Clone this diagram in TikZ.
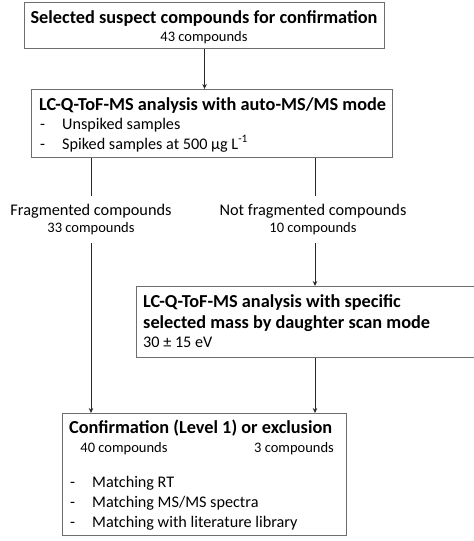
\documentclass[tikz,border=0pt]{standalone}
\usepackage{fontspec}
\setmainfont{Carlito}
\usetikzlibrary{arrows.meta, positioning}
\definecolor{boxgray}{RGB}{110,110,110}
\definecolor{linegray}{RGB}{40,40,40}

\begin{document}
\begin{tikzpicture}[
    x=1pt, y=-1pt,
    >={Stealth[length=5pt, width=4.5pt]},
    stepbox/.style={rectangle, draw=boxgray, line width=1.1pt, anchor=north west, inner sep=0pt},
    heading/.style={anchor=base west, inner sep=0pt, font=\fontsize{18.3}{20}\selectfont\bfseries},
    bodytext/.style={anchor=base west, inner sep=0pt, font=\fontsize{16.2}{18}\selectfont},
    countlabel/.style={anchor=base, inner sep=0pt, font=\fontsize{14.5}{16}\selectfont},
    branchlabel/.style={align=center, inner sep=0pt, minimum height=47pt, font=\fontsize{16.3}{17}\selectfont},
    arrow/.style={->, line width=0.8pt, linegray},
    link/.style={line width=0.8pt, linegray},
]
\useasboundingbox (0,0) rectangle (474,541);

% === BOXES ===
\node[stepbox, minimum width=360, minimum height=46] (select) at (24,2) {};
\node[stepbox, minimum width=361, minimum height=68] (automs) at (31,89) {};
\node[stepbox, minimum width=340, minimum height=71] (daughter) at (136,286) {};
\node[stepbox, minimum width=284, minimum height=122] (confirm) at (62,413) {};

% Selected suspects
\node[heading, anchor=base] (selecttitle) at (204,23) {Selected suspect compounds for confirmation};
\node[countlabel] (selectcount) at (204,41) {43 compounds};

% Auto-MS/MS
\node[heading] (automstitle) at (39,110) {LC-Q-ToF-MS analysis with auto-MS/MS mode};
\node[bodytext] (dashA) at (40,129.5) {-};
\node[bodytext] (unspiked) at (62,129.5) {Unspiked samples};
\node[bodytext] (dashB) at (40,149) {-};
\node[bodytext] (spiked) at (62,149) {Spiked samples at 500 µg L\textsuperscript{-1}};

% Branch labels
\node[branchlabel] (frag) at (91,219.6) {Fragmented compounds\\{\fontsize{14.5}{17}\selectfont 33 compounds}};
\node[branchlabel] (notfrag) at (313,219.6) {Not fragmented compounds\\{\fontsize{14.5}{17}\selectfont 10 compounds}};

% Daughter scan
\node[heading] (daughtertitleA) at (143,307.7) {LC-Q-ToF-MS analysis with specific};
\node[heading] (daughtertitleB) at (143,328) {selected mass by daughter scan mode};
\node[bodytext] (energy) at (143,347.7) {30 ± 15 eV};

% Confirmation
\node[heading] (confirmtitle) at (69,433) {Confirmation (Level 1) or exclusion};
\node[countlabel] (confirmcount) at (124,452) {40 compounds};
\node[countlabel] (excludecount) at (294,452) {3 compounds};
\node[bodytext] (dashC) at (70,487) {-};
\node[bodytext] (matchrt) at (92,487) {Matching RT};
\node[bodytext] (dashD) at (70,507) {-};
\node[bodytext] (matchms) at (92,507) {Matching MS/MS spectra};
\node[bodytext] (dashE) at (70,527) {-};
\node[bodytext] (matchlib) at (92,527) {Matching with literature library};

% === ARROWS ===
\draw[arrow] (select.south) -- (select.south |- automs.north);
\draw[link] (automs.south -| frag.north) -- (frag.north);
\draw[link] (automs.south -| 315,0) -- (315,0 |- notfrag.north);
\draw[arrow] (frag.south) -- (frag.south |- confirm.north);
\draw[arrow] (315,0 |- notfrag.south) -- (315,0 |- daughter.north);
\draw[arrow] (315,0 |- daughter.south) -- (315,0 |- confirm.north);

\end{tikzpicture}
\end{document}
